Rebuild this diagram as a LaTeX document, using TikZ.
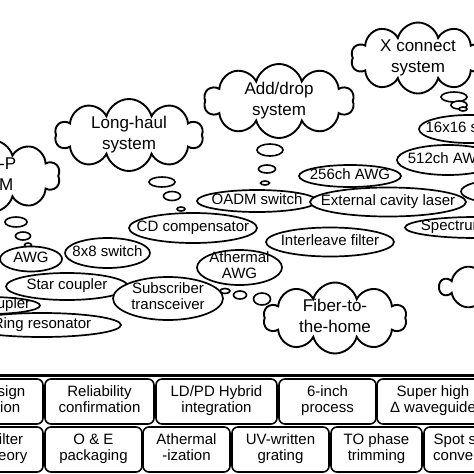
\documentclass[tikz,border=0pt]{standalone}
\usepackage{fontspec}
\setmainfont{Liberation Sans}
\usetikzlibrary{shapes.geometric, shapes.symbols}
\newcommand{\lbl}[1]{\makebox[0pt]{\begin{tabular}{@{}c@{}}#1\end{tabular}}}
\tikzset{
  part/.style={ellipse, draw, fill=white, line width=1.7pt, inner sep=0pt,
    inner ysep=-4pt, font=\fontsize{15}{16}\selectfont},
  idea/.style={cloud, cloud puffs=10, cloud ignores aspect, draw, fill=white,
    line width=1.9pt, inner sep=0pt, inner ysep=-10pt, font=\fontsize{17}{21}\selectfont},
  puff/.style={ellipse, draw, fill=white, line width=1.6pt, inner sep=0pt},
  tech/.style={rectangle, rounded corners=6pt, draw, fill=white, line width=1.6pt,
    inner sep=0pt, minimum height=45pt, font=\fontsize{15}{16}\selectfont},
}

\begin{document}
\begin{tikzpicture}[x=1pt, y=-1pt]
  \useasboundingbox (0,0) rectangle (474,474);
  \clip (0,0) rectangle (474,474);

  % systems (clouds)
  \node[idea, minimum width=136pt, minimum height=72pt] (ptp) at (-8,176) {\lbl{P-to-P\\WDM}};
  \node[idea, minimum width=148pt, minimum height=72pt] (long) at (129,135) {\lbl{Long-haul\\system}};
  \node[idea, minimum width=150pt, minimum height=74pt] (add) at (279,101) {\lbl{Add/drop\\system}};
  \node[idea, minimum width=134pt, minimum height=71pt] (xc) at (418,58) {\lbl{X connect\\system}};
  \node[idea, minimum width=143pt, minimum height=71pt] (ftth) at (335,318) {\lbl{Fiber-to-\\the-home}};
  \node[idea, minimum width=130pt, minimum height=50pt] (more) at (505,287) {};

  % thought bubbles
  \node[puff, minimum width=22pt, minimum height=10pt] (ptp1) at (16,222) {};
  \node[puff, minimum width=15pt, minimum height=8pt] (ptp2) at (23,236) {};
  \node[puff, minimum width=7pt, minimum height=4pt] (ptp3) at (28,245) {};
  \node[puff, minimum width=26pt, minimum height=10pt] (long1) at (162,182) {};
  \node[puff, minimum width=17pt, minimum height=9pt] (long2) at (172,196) {};
  \node[puff, minimum width=8pt, minimum height=4pt] (long3) at (181,209) {};
  \node[puff, minimum width=26pt, minimum height=12pt] (add1) at (270,150) {};
  \node[puff, minimum width=17pt, minimum height=8pt] (add2) at (267,169) {};
  \node[puff, minimum width=9pt, minimum height=4pt] (add3) at (265,183) {};
  \node[puff, minimum width=26pt, minimum height=10pt] (xc1) at (454,97) {};
  \node[puff, minimum width=16pt, minimum height=8pt] (xc2) at (459,105) {};
  \node[puff, minimum width=8pt, minimum height=4pt] (xc3) at (463,109) {};
  \node[puff, minimum width=17pt, minimum height=12pt] (ftth1) at (262,299) {};
  \node[puff, minimum width=13pt, minimum height=8pt] (ftth2) at (240,295) {};
  \node[puff, minimum width=10pt, minimum height=5pt] (ftth3) at (225,291) {};

  % devices (ellipses)
  \node[part, minimum width=62pt, minimum height=25pt] (awg) at (31,259) {\lbl{AWG}};
  \node[part, minimum width=85pt, minimum height=30pt] (sw8) at (107.5,253) {\lbl{8x8 switch}};
  \node[part, minimum width=102pt, minimum height=17pt] (mmi) at (-11,305.5) {\lbl{MMI coupler}};
  \node[part, minimum width=122pt, minimum height=27pt] (star) at (67,286.5) {\lbl{Star coupler}};
  \node[part, minimum width=158pt, minimum height=24pt] (ring) at (42,325) {\lbl{Ring resonator}};
  \node[part, minimum width=110pt, minimum height=43pt] (subs) at (168,298.5) {\lbl{Subscriber\\transceiver}};
  \node[part, minimum width=128pt, minimum height=30pt] (cdc) at (193,228) {\lbl{CD compensator}};
  \node[part, minimum width=85pt, minimum height=35pt] (athawg) at (239.5,267.5) {\lbl{Athermal\\AWG}};
  \node[part, minimum width=128pt, minimum height=29pt] (ilf) at (330,242) {\lbl{Interleave filter}};
  \node[part, minimum width=102pt, minimum height=22pt] (awg256) at (350,176) {\lbl{256ch AWG}};
  \node[part, minimum width=120pt, minimum height=22pt] (oadm) at (257,201) {\lbl{OADM switch}};
  \node[part, minimum width=100pt, minimum height=28pt] (sw16) at (469,129) {\lbl{16x16 switch}};
  \node[part, minimum width=102pt, minimum height=30pt] (awg512) at (448,160) {\lbl{512ch AWG}};
  \node[part, minimum width=78pt, minimum height=23pt] (dev) at (500,191.5) {};
  \node[part, minimum width=156pt, minimum height=29pt] (ecl) at (388,202) {\lbl{External cavity laser}};
  \node[part, minimum width=142pt, minimum height=21pt] (spec) at (476,227.5) {\lbl{Spectrum slicing}};

  % technologies (boxes)
  \draw[line width=2.5pt] (0,375.3) -- (474,375.3);
  \node[tech, minimum width=113pt] (b11) at (-13.5,401.5) {\lbl{PLC design\\simulation}};
  \node[tech, minimum width=109pt] (b12) at (99.5,401.5) {\lbl{Reliability\\confirmation}};
  \node[tech, minimum width=121pt] (b13) at (216.5,401.5) {\lbl{LD/PD Hybrid\\integration}};
  \node[tech, minimum width=97pt] (b14) at (327.5,401.5) {\lbl{6-inch\\process}};
  \node[tech, minimum width=112pt] (b15) at (433,401.5) {\lbl{Super high\\Δ waveguide}};
  \node[tech, minimum width=73pt] (b21) at (6.5,449.5) {\lbl{Filter\\theory}};
  \node[tech, minimum width=97pt] (b22) at (93.5,449.5) {\lbl{O \& E\\packaging}};
  \node[tech, minimum width=87pt] (b23) at (186.5,449.5) {\lbl{Athermal\\-ization}};
  \node[tech, minimum width=97pt] (b24) at (280.5,449.5) {\lbl{UV-written\\grating}};
  \node[tech, minimum width=91pt] (b25) at (376.5,449.5) {\lbl{TO phase\\trimming}};
  \node[tech, minimum width=81pt] (b26) at (464.5,449.5) {\lbl{Spot size\\converter}};

  % shading under the lower row
  \foreach \b in {b21,b22,b23,b24,b26}
    \fill[gray!60] ([xshift=5pt,yshift=-1.5pt]\b.south west) rectangle ([xshift=-5pt,yshift=-4pt]\b.south east);
  \fill[black] ([xshift=5pt,yshift=-1.5pt]b25.south west) rectangle ([xshift=-5pt,yshift=-4pt]b25.south east);
\end{tikzpicture}
\end{document}
